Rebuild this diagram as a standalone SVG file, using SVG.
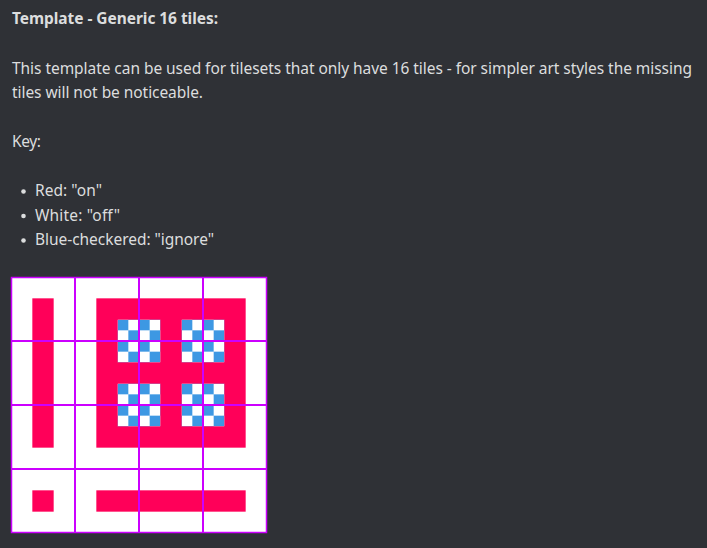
<svg xmlns="http://www.w3.org/2000/svg" width="707" height="548" viewBox="0 0 707 548">
<style>
.t{font-family:"Noto Sans","Open Sans","DejaVu Sans",sans-serif;font-size:15.5px;fill:#dcddde}
.b{font-weight:bold}
.on{fill:#ff0059}
.off{fill:#ffffff}
.grid{stroke:#cc00ff;stroke-width:2;fill:none}
</style>
<defs>
<pattern id="chk" patternUnits="userSpaceOnUse" x="11" y="277" width="21.3333" height="21.3333">
<rect width="21.3333" height="21.3333" fill="#ffffff"/>
<rect width="10.6667" height="10.6667" fill="#3d98e3"/>
<rect x="10.6667" y="10.6667" width="10.6667" height="10.6667" fill="#3d98e3"/>
</pattern>
</defs>
<rect width="707" height="548" fill="#2f3136"/>
<g id="text">
<text class="t b" x="12" y="24" textLength="206">Template - Generic 16 tiles:</text>
<text class="t" x="12" y="74" textLength="680">This template can be used for tilesets that only have 16 tiles - for simpler art styles the missing</text>
<text class="t" x="12" y="98" textLength="191">tiles will not be noticeable.</text>
<text class="t" x="12" y="147" textLength="29">Key:</text>
<circle cx="23.5" cy="191.5" r="2.3" fill="#dcddde"/>
<text class="t" x="35" y="196" textLength="67">Red: "on"</text>
<circle cx="23.5" cy="216" r="2.3" fill="#dcddde"/>
<text class="t" x="35" y="221" textLength="85">White: "off"</text>
<circle cx="23.5" cy="240.5" r="2.3" fill="#dcddde"/>
<text class="t" x="35" y="245" textLength="179">Blue-checkered: "ignore"</text>
</g>
<g id="template">
<rect class="off" x="11" y="277" width="256" height="256"/>
<rect class="on" x="32.3333" y="298.3333" width="21.3333" height="149.3333"/>
<rect class="on" x="96.3333" y="298.3333" width="149.3333" height="149.3333"/>
<rect fill="url(#chk)" x="117.6667" y="319.6667" width="42.6667" height="42.6667"/>
<rect fill="url(#chk)" x="181.6667" y="319.6667" width="42.6667" height="42.6667"/>
<rect fill="url(#chk)" x="117.6667" y="383.6667" width="42.6667" height="42.6667"/>
<rect fill="url(#chk)" x="181.6667" y="383.6667" width="42.6667" height="42.6667"/>
<rect class="on" x="32.3333" y="490.3333" width="21.3333" height="21.3333"/>
<rect class="on" x="96.3333" y="490.3333" width="149.3333" height="21.3333"/>
</g>
<g id="gridlines">
<path class="grid" d="M75 277V533M139 277V533M203 277V533M11 341H267M11 405H267M11 469H267"/>
<rect x="11.5" y="277.5" width="255" height="255" fill="none" stroke="#cc00ff" stroke-width="1.5"/>
</g>
</svg>
